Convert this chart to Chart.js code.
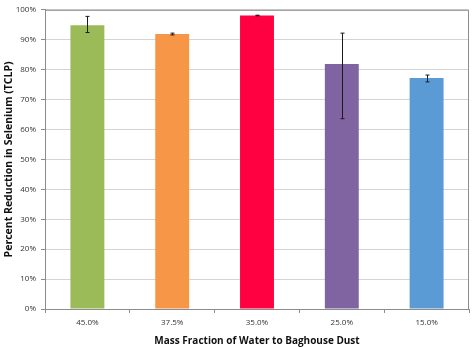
<!DOCTYPE html>
<html>
<head>
<meta charset="utf-8">
<script src="https://cdn.jsdelivr.net/npm/chart.js@4"></script>
<style>
  html, body { margin: 0; padding: 0; background: #fff; }
  #wrap { width: 474px; height: 347px; }
</style>
</head>
<body>
<div id="wrap"><canvas id="chartCanvas" width="474" height="347"></canvas></div>
<script>
const fractions = ["45.0%", "37.5%", "35.0%", "25.0%", "15.0%"];
const reduction = [94.8, 91.9, 98.1, 81.9, 77.2];
const errPlus = [3.0, 0.3, 0.1, 10.3, 1.0];
const errMinus = [2.4, 0.3, 0.1, 18.3, 1.3];
const barColors = ["#9bbb59", "#f79646", "#ff0040", "#8064a2", "#5b9bd5"];

const FONT = "'Open Sans', 'DejaVu Sans', sans-serif";

// frame around the plot area (top and right edges)
const frame = {
    id: "frame",
    beforeDatasetsDraw(chart) {
        const { ctx, chartArea: a } = chart;
        ctx.save();
        ctx.strokeStyle = "#8c8c8c";
        ctx.lineWidth = 1;
        ctx.beginPath();
        ctx.moveTo(a.left, a.top + 0.5);
        ctx.lineTo(a.right - 0.5, a.top + 0.5);
        ctx.lineTo(a.right - 0.5, a.bottom);
        ctx.stroke();
        ctx.restore();
    }
};

// error bars with small caps
const errorBars = {
    id: "errorBars",
    afterDatasetsDraw(chart) {
        const { ctx } = chart;
        const y = chart.scales.y;
        const meta = chart.getDatasetMeta(0);
        ctx.save();
        ctx.strokeStyle = "#1a1a1a";
        ctx.lineWidth = 1;
        meta.data.forEach((bar, i) => {
            const x = Math.round(bar.x) + 0.5;
            const top = y.getPixelForValue(reduction[i] + errPlus[i]);
            const bot = y.getPixelForValue(reduction[i] - errMinus[i]);
            ctx.beginPath();
            ctx.moveTo(x, top);
            ctx.lineTo(x, bot);
            ctx.moveTo(x - 2, top);
            ctx.lineTo(x + 2, top);
            ctx.moveTo(x - 2, bot);
            ctx.lineTo(x + 2, bot);
            ctx.stroke();
        });
        ctx.restore();
    }
};

new Chart(document.getElementById("chartCanvas"), {
    type: "bar",
    data: {
        labels: fractions,
        datasets: [{
            data: reduction,
            backgroundColor: barColors,
            borderWidth: 0,
            categoryPercentage: 1,
            barPercentage: 0.4
        }]
    },
    options: {
        responsive: false,
        animation: false,
        layout: { padding: { top: 7, right: 5, left: 3, bottom: 0 } },
        plugins: {
            legend: { display: false },
            tooltip: { enabled: false }
        },
        scales: {
            x: {
                grid: {
                    offset: true,
                    drawOnChartArea: false,
                    tickLength: 4,
                    color: "#8c8c8c"
                },
                border: { color: "#8c8c8c" },
                ticks: {
                    color: "#333",
                    font: { family: FONT, size: 8 },
                    padding: 5,
                    maxRotation: 0
                },
                title: {
                    display: true,
                    text: "Mass Fraction of Water to Baghouse Dust",
                    color: "#111",
                    font: { family: FONT, size: 10, weight: "bold" },
                    padding: { top: 4, bottom: 0 }
                },
                afterFit(scale) { scale.height = 38; }
            },
            y: {
                min: 0,
                max: 100,
                ticks: {
                    stepSize: 10,
                    color: "#333",
                    font: { family: FONT, size: 8 },
                    padding: 5,
                    callback: v => v + "%"
                },
                grid: {
                    color: "#d4d4d4",
                    tickColor: "#8c8c8c",
                    tickLength: 4
                },
                border: { color: "#8c8c8c" },
                title: {
                    display: true,
                    text: "Percent Reduction in Selenium (TCLP)",
                    color: "#111",
                    font: { family: FONT, size: 10.5, weight: "bold" },
                    padding: { top: 0, bottom: 2 }
                },
                afterFit(scale) { scale.width = 42; }
            }
        }
    },
    plugins: [frame, errorBars]
});
</script>
</body>
</html>
